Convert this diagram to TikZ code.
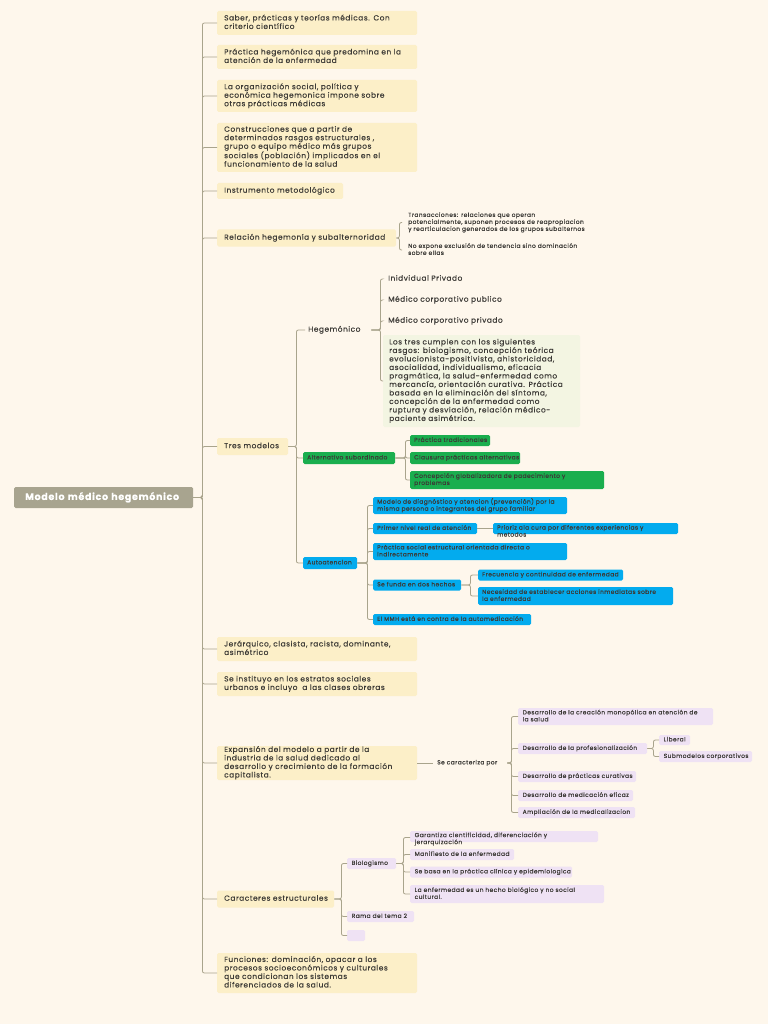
\documentclass[tikz,border=0pt]{standalone}
\usepackage{fontspec}
\setmainfont{Poppins}[LetterSpace=7.2, FakeBold=0.25]
\definecolor{bgc}{HTML}{FEF7EC}
\definecolor{yelc}{HTML}{FCEFC8}
\definecolor{rootc}{HTML}{A8A48F}
\definecolor{lnc}{HTML}{A9A48C}
\definecolor{lgrc}{HTML}{F3F5E2}
\definecolor{grc}{HTML}{1AAE4E}
\definecolor{blc}{HTML}{03ABEE}
\definecolor{lavc}{HTML}{EFE2F4}
\definecolor{txc}{HTML}{3C3A36}
\newcommand\TXL[1]{\begin{tabular}{@{}l@{}}#1\end{tabular}}
\tikzset{
  base/.style={anchor=west, inner ysep=0pt, align=left, rounded corners=1.5pt, text=txc},
  big/.style={font=\fontsize{7.4}{8.5}\selectfont},
  sml/.style={font=\fontsize{5.9}{7}\selectfont},
  yel/.style={base, big, fill=yelc, inner xsep=7pt},
  plain/.style={base, big, inner xsep=6pt},
  plains/.style={base, sml, inner xsep=6pt},
  grn/.style={base, sml, fill=grc, inner xsep=4pt},
  blu/.style={base, sml, fill=blc, inner xsep=4pt},
  lav/.style={base, sml, fill=lavc, inner xsep=4.5pt},
  ln/.style={draw=lnc, line width=0.8pt, rounded corners=2pt},
}
\begin{document}
\begin{tikzpicture}[x=1pt,y=-1pt]
\fill[bgc] (0,0) rectangle (768,1024);
\useasboundingbox (0,0) rectangle (768,1024);

% root
\node[base, fill=rootc, text=white, inner xsep=11pt, minimum width=179pt, text width=157pt, minimum height=21pt, font=\fontsize{9.5}{10}\selectfont\bfseries] (root) at (14,497.5) {\TXL{Modelo médico hegemónico}};

% level 1
\node[yel, minimum width=200pt, text width=186pt, minimum height=24pt] (a1) at (217,23) {\TXL{Saber, prácticas y teorías médicas. Con\\criterio científico}};
\node[yel, minimum width=200pt, text width=186pt, minimum height=24pt] (a2) at (217,57) {\TXL{Práctica hegemónica que predomina en la\\atención de la enfermedad}};
\node[yel, minimum width=200pt, text width=186pt, minimum height=32pt] (a3) at (217,96) {\TXL{La organización social, política y\\económica hegemonica impone sobre\\otras prácticas médicas}};
\node[yel, minimum width=200pt, text width=186pt, minimum height=49pt] (a4) at (217,147.5) {\TXL{Construcciones que a partir de\\determinados rasgos estructurales ,\\grupo o equipo médico más grupos\\sociales (población) implicados en el\\funcionamiento de la salud}};
\node[yel, minimum width=126pt, text width=112pt, minimum height=16pt] (a5) at (217,191) {\TXL{Instrumento metodológico}};
\node[yel, minimum width=179pt, text width=165pt, minimum height=17pt] (a6) at (217,238) {\TXL{Relación hegemonía y subalternoridad}};
\node[yel, minimum width=71pt, text width=57pt, minimum height=17pt] (a7) at (217,446.5) {\TXL{Tres modelos}};
\node[yel, minimum width=200pt, text width=186pt, minimum height=24pt] (a8) at (217,649) {\TXL{Jerárquico, clasista, racista, dominante,\\asimétrico}};
\node[yel, minimum width=200pt, text width=186pt, minimum height=24pt] (a9) at (217,684) {\TXL{Se instituyo en los estratos sociales\\urbanos e incluyo\ \ a las clases obreras}};
\node[yel, minimum width=200pt, text width=186pt, minimum height=32pt] (a10) at (217,763) {\TXL{Expansión del modelo a partir de la\\industria de la salud dedicado al\\desarrollo y crecimiento de la formación\\capitalista.}};
\node[yel, minimum width=117pt, text width=103pt, minimum height=17pt] (a11) at (217,899) {\TXL{Caracteres estructurales}};
\node[yel, minimum width=200pt, text width=186pt, minimum height=40pt] (a12) at (217,973) {\TXL{Funciones: dominación, opacar a los\\procesos socioeconómicos y culturales\\que condicionan los sistemas\\diferenciados de la salud.}};

\foreach \c in {a1,a2,a3,a4,a5,a6,a7,a8,a9,a10,a11,a12}
  \draw[ln] (root.east) -- ++(9,0) |- (\c.west);

% Relacion children
\node[plains, text width=200pt] (r1) at (402,222.5) {\TXL{Transacciones: relaciones que operan\\potencialmente, suponen procesos de reapropiacion\\y rearticulacion generados de los grupos subalternos}};
\node[plains, text width=200pt] (r2) at (402,250) {\TXL{No expone exclusión de tendencia sino dominación\\sobre ellas}};
\foreach \c in {r1,r2}
  \draw[ln] (a6.east) -- ++(3,0) |- (\c.west);

% Tres modelos children
\node[plain, inner xsep=3pt, text width=60pt] (h) at (305,330) {\TXL{Hegemónico}};
\node[grn, minimum width=92pt, text width=84pt, minimum height=12pt] (alt) at (303,458) {\TXL{Alternativo subordinado}};
\node[blu, minimum width=54pt, text width=46pt, minimum height=12pt] (auto) at (303,563) {\TXL{Autoatencion}};
\foreach \c in {h,alt,auto}
  \draw[ln] (a7.east) -- ++(8,0) |- (\c.west);

% Hegemonico children
\node[plain, text width=150pt] (h1) at (382,279) {\TXL{Inidvidual Privado}};
\node[plain, text width=150pt] (h2) at (382,300) {\TXL{Médico corporativo publico}};
\node[plain, text width=150pt] (h3) at (382,321) {\TXL{Médico corporativo privado}};
\node[plain, fill=lgrc, minimum width=197pt, text width=185pt, minimum height=92pt] (h4) at (383,381) {\TXL{Los tres cumplen con los siguientes\\rasgos: biologismo, concepción teórica\\evolucionista-positivista, ahistoricidad,\\asocialidad, individualismo, eficacia\\pragmática, la salud-enfermedad como\\mercancía, orientación curativa. Práctica\\basada en la eliminación del síntoma,\\concepción de la enfermedad como\\ruptura y desviación, relación médico-\\paciente asimétrica.}};
\foreach \c in {h1,h2,h3,h4}
  \draw[ln] (h.east) -- ++(9,0) |- (\c.west);

% Alternativo children
\node[grn, minimum width=80pt, text width=72pt, minimum height=11pt] (g1) at (410,440.5) {\TXL{Práctica tradicionales}};
\node[grn, minimum width=110pt, text width=102pt, minimum height=12pt] (g2) at (410,458) {\TXL{Clausura prácticas alternativas}};
\node[grn, minimum width=194pt, text width=186pt, minimum height=18pt] (g3) at (410,480) {\TXL{Concepción globalizadora de padecimiento y\\problemas}};
\foreach \c in {g1,g2,g3}
  \draw[ln] (alt.east) -- ++(10,0) |- (\c.west);

% Autoatencion children
\node[blu, minimum width=194pt, text width=186pt, minimum height=17pt] (b1) at (373,505.5) {\TXL{Modelo de diagnóstico y atencion (prevención) por la\\misma persona o integrantes del grupo familiar}};
\node[blu, minimum width=104pt, text width=96pt, minimum height=11pt] (b2) at (373,528.5) {\TXL{Primer nivel real de atención}};
\node[blu, minimum width=194pt, text width=186pt, minimum height=17pt] (b3) at (373,551.5) {\TXL{Práctica social estructural orientada directa o\\indirectamente}};
\node[blu, minimum width=88pt, text width=80pt, minimum height=11pt] (b4) at (373,585) {\TXL{Se funda en dos hechos}};
\node[blu, minimum width=158pt, text width=150pt, minimum height=11pt] (b5) at (373,619.5) {\TXL{El MMH está en contra de la automedicación}};
\foreach \c in {b1,b2,b3,b4,b5}
  \draw[ln] (auto.east) -- ++(10,0) |- (\c.west);

\fill[blc, rounded corners=1.5pt] (493,523) rectangle (678,534);
\node[base, sml, inner xsep=4pt, inner ysep=0pt, anchor=north west, text width=177pt] (b21) at (493,524.5) {\TXL{Prioriz ala cura por diferentes experiencias y\\metodos}};
\draw[ln] (b2.east) -- (b2.east -| b21.west);

\node[blu, minimum width=145pt, text width=137pt, minimum height=11pt] (b41) at (478,575) {\TXL{Frecuencia y continuidad de enfermedad}};
\node[blu, minimum width=195pt, text width=187pt, minimum height=18pt] (b42) at (478,596) {\TXL{Necesidad de establecer acciones inmediatas sobre\\la enfermedad}};
\foreach \c in {b41,b42}
  \draw[ln] (b4.east) -- ++(9,0) |- (\c.west);

% Expansion children
\node[plains, inner xsep=4pt, text width=66pt] (sc) at (433,763) {\TXL{Se caracteriza por}};
\draw[ln] (a10.east) -- (sc.west);
\node[lav, minimum width=195pt, text width=186pt, minimum height=17pt] (e1) at (518,716.5) {\TXL{Desarrollo de la creación monopólica en atención de\\la salud}};
\node[lav, minimum width=129pt, text width=120pt, minimum height=11pt] (e2) at (518,748.5) {\TXL{Desarrollo de la profesionalización}};
\node[lav, minimum width=118pt, text width=109pt, minimum height=11pt] (e3) at (518,776.5) {\TXL{Desarrollo de prácticas curativas}};
\node[lav, minimum width=115pt, text width=106pt, minimum height=11pt] (e4) at (518,795.5) {\TXL{Desarrollo de medicación eficaz}};
\node[lav, minimum width=117pt, text width=108pt, minimum height=11pt] (e5) at (518,812.5) {\TXL{Ampliación de la medicalizacion}};
\foreach \c in {e1,e2,e3,e4,e5}
  \draw[ln] (sc.east) -- ++(4,0) |- (\c.west);
\node[lav, minimum width=31pt, text width=22pt, minimum height=10pt] (e21) at (659,740) {\TXL{Liberal}};
\node[lav, minimum width=93pt, text width=84pt, minimum height=11pt] (e22) at (659,756.5) {\TXL{Submodelos corporativos}};
\foreach \c in {e21,e22}
  \draw[ln] (e2.east) -- ++(6,0) |- (\c.west);

% Caracteres children
\node[lav, minimum width=49pt, text width=40pt, minimum height=11pt] (c1) at (347,863.5) {\TXL{Biologismo}};
\node[lav, minimum width=67pt, text width=58pt, minimum height=11pt] (c2) at (347,916.5) {\TXL{Rama del tema 2}};
\node[lav, minimum width=18pt, text width=9pt, minimum height=11pt] (c3) at (347,935.5) {};
\foreach \c in {c1,c2,c3}
  \draw[ln] (a11.east) -- ++(7,0) |- (\c.west);

\fill[lavc, rounded corners=1.5pt] (410,831) rectangle (598,842);
\node[base, sml, inner xsep=4.5pt, anchor=north west, text width=179pt] (d1) at (410,832) {\TXL{Garantiza cientificidad, diferenciación y\\jerarquización}};
\node[lav, minimum width=104pt, text width=95pt, minimum height=11pt] (d2) at (410,854.5) {\TXL{Manifiesto de la enfermedad}};
\node[lav, minimum width=162pt, text width=153pt, minimum height=11pt] (d3) at (410,872) {\TXL{Se basa en la práctica clínica y epidemiologica}};
\node[lav, minimum width=194pt, text width=185pt, minimum height=18pt] (d4) at (410,894) {\TXL{La enfermedad es un hecho biológico y no social\\cultural.}};
\draw[ln] (c1.east) -- ++(7,0) |- ([yshift=-5.5pt]d1.north west);
\foreach \c in {d2,d3,d4}
  \draw[ln] (c1.east) -- ++(7,0) |- (\c.west);
\end{tikzpicture}
\end{document}
